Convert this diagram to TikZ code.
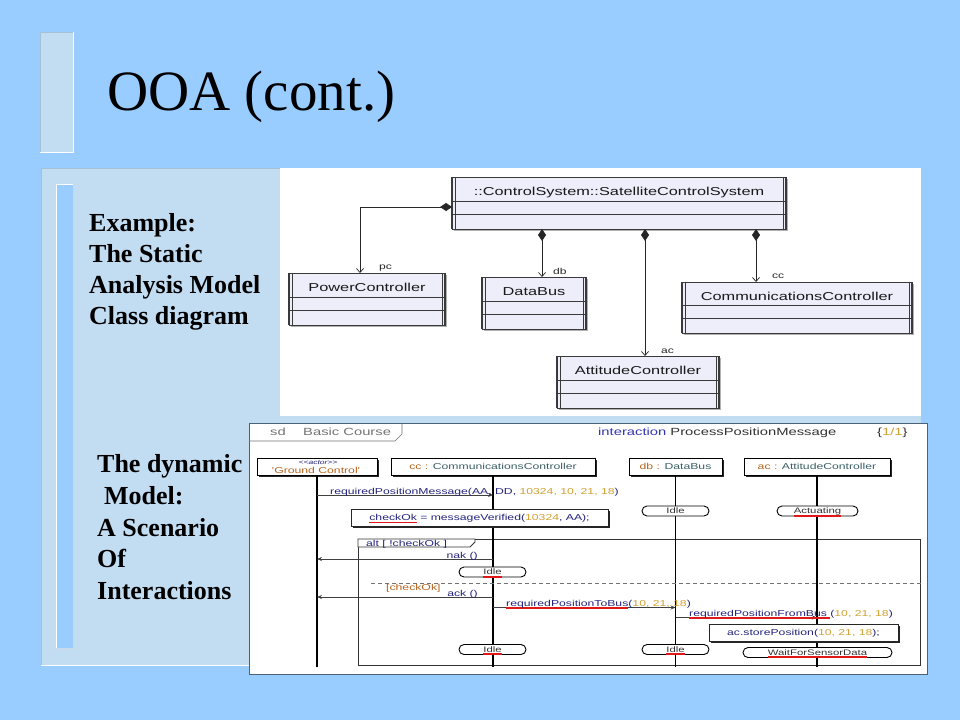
\documentclass[tikz,border=0pt]{standalone}
\usepackage{fontspec}
\setmainfont{Liberation Serif}
\newfontfamily\dgfont[FakeStretch=1.42]{Liberation Sans}
\usetikzlibrary{arrows.meta,calc}
\definecolor{bg}{HTML}{99CCFF}
\definecolor{panel}{HTML}{C2DCF2}
\definecolor{panelline}{HTML}{A6C0D8}
\definecolor{clsfill}{HTML}{EEEEFA}
\definecolor{clsline}{HTML}{3A3A3A}
\definecolor{imgborder}{HTML}{4A6278}
\definecolor{navy}{HTML}{24247E}
\definecolor{gold}{HTML}{D2A032}
\definecolor{rust}{HTML}{B8641E}
\definecolor{tealc}{HTML}{3A5F66}
\definecolor{errred}{HTML}{E01818}
\definecolor{ltblue}{HTML}{3535B5}
\newsavebox\ulbox
\newcommand\redul[1]{\sbox\ulbox{#1}\rlap{\color{errred}\vrule width \wd\ulbox height -1.0pt depth 2.6pt}\usebox\ulbox}
\newcommand\umlcls[6]{%
  \fill[black!30] (#2+1.5,#3+1.5) rectangle (#4+1.5,#5+1.5);
  \node[clsbox, minimum width={(#4-#2)*1pt}, minimum height={(#5-#3)*1pt}] (#1) at ({(#2+#4)/2},{(#3+#5)/2}) {};
  \draw[clsline] ($(#1.north west)!0.46!(#1.south west)$) -- ($(#1.north east)!0.46!(#1.south east)$);
  \draw[clsline] ($(#1.north west)!0.72!(#1.south west)$) -- ($(#1.north east)!0.72!(#1.south east)$);
  \draw[clsline] ([xshift=3pt]#1.north west) -- ([xshift=3pt]#1.south west);
  \draw[clsline] ([xshift=-3pt]#1.north east) -- ([xshift=-3pt]#1.south east);
  \draw[clsline, line width=1.6pt] (#1.north west) -- (#1.south west) (#1.north east) -- (#1.south east);
  \node[clstext] (#1-t) at ($(#1.north)!0.28!(#1.south)$) {#6};
}
\begin{document}
\begin{tikzpicture}[x=1pt,y=-1pt,
  clsbox/.style={draw=clsline, line width=0.6pt, fill=clsfill, inner sep=0pt, outer sep=0pt},
  clsline/.style={draw=clsline, line width=0.6pt},
  clstext/.style={font=\dgfont\fontsize{11.5}{13}\selectfont, text=black!90, inner sep=0pt, text height=8.2pt, text depth=0pt},
  rolelbl/.style={font=\dgfont\fontsize{8.5}{10}\selectfont, text=black!85, inner sep=0pt, anchor=base west},
  comp/.style={draw=black!85, line width=0.7pt, {Diamond[length=12pt,width=8pt]}-{Straight Barb[length=4pt,width=7pt]}},
  seqtxt/.style={font=\dgfont\fontsize{8.6}{10}\selectfont, inner sep=0pt, text height=6.2pt, text depth=0pt},
  hdrtxt/.style={font=\dgfont\fontsize{10.4}{12}\selectfont, inner sep=0pt, text height=7.5pt, text depth=0pt},
  headbox/.style={draw=black, line width=0.8pt, fill=white, inner sep=0pt},
  actbox/.style={draw=black!85, line width=0.8pt, fill=white, inner sep=0pt},
  statebox/.style={draw=black, line width=0.9pt, fill=white, rounded corners=5pt, inner sep=0pt, minimum height=10pt,
     font=\dgfont\fontsize{8}{9}\selectfont, text=black!80, text height=5.8pt, text depth=0pt},
  lifeline/.style={draw=black, line width=1.4pt},
  msg/.style={draw=black!75, line width=0.7pt, -{Stealth[length=5pt,width=4pt]}},
  titletxt/.style={font=\fontsize{57}{60}\selectfont, inner sep=0pt, anchor=base west},
  lefttxt/.style={font=\fontsize{26}{31}\selectfont\bfseries, inner sep=0pt, anchor=base west}
]
\useasboundingbox (0,0) rectangle (960,720);
\fill[bg] (0,0) rectangle (960,720);

% title decoration and title
\fill[panel] (40,32) rectangle (73,152);
\draw[panelline] (40,152) -- (40,32) -- (73,32);
\draw[white] (73,32) -- (73,152) -- (40,152);
\node[titletxt] (title) at (107,110) {OOA (cont.)};

% content panel
\fill[panel] (41,168) rectangle (921,665);
\draw[panelline] (41,665) -- (41,168) -- (921,168);
\draw[white] (41,665) -- (921,665);
\fill[bg] (56,184) rectangle (73,648);
\draw[white] (56,648) -- (56,184) -- (73,184);
\draw[panelline!60] (73,184) -- (73,648) -- (56,648);

% left texts
\node[lefttxt] (ex1) at (89,231) {Example:};
\node[lefttxt] (ex2) at (89,262) {The Static};
\node[lefttxt] (ex3) at (89,293) {Analysis Model};
\node[lefttxt] (ex4) at (89,324) {Class diagram};
\node[lefttxt] (dy1) at (97,472) {The dynamic};
\node[lefttxt] (dy2) at (104,504) {Model:};
\node[lefttxt] (dy3) at (97,536) {A Scenario};
\node[lefttxt] (dy4) at (97,567) {Of};
\node[lefttxt] (dy5) at (97,599) {Interactions};

% ===== class diagram =====
\node[fill=white, inner sep=0pt, minimum width=641pt, minimum height=248pt, anchor=north west] (clsimg) at (280,168) {};
\umlcls{sat}{452}{177}{786}{229}{::ControlSystem::SatelliteControlSystem}
\umlcls{pc}{289}{273}{445}{325}{PowerController}
\umlcls{db}{482}{277}{586}{329}{DataBus}
\umlcls{cc}{682}{282}{912}{333}{CommunicationsController}
\umlcls{ac}{557}{356}{719}{408}{AttitudeController}

\draw[comp] ([yshift=-4pt]sat.west) -| ([xshift=-7pt]pc.north);
\draw[comp] ([xshift=8pt]db.north |- sat.south) -- ([xshift=8pt]db.north);
\draw[comp] ([xshift=7pt]ac.north |- sat.south) -- ([xshift=7pt]ac.north);
\draw[comp] ([xshift=-41pt]cc.north |- sat.south) -- ([xshift=-41pt]cc.north);
\node[rolelbl] (lpc) at (379,269.5) {pc};
\node[rolelbl] (ldb) at (553,274) {db};
\node[rolelbl] (lcc) at (772,278.5) {cc};
\node[rolelbl] (lac) at (661,353) {ac};

% ===== sequence diagram =====
\node[fill=white, draw=imgborder, line width=1.2pt, inner sep=0pt, minimum width=678pt, minimum height=251pt, anchor=north west] (seqimg) at (249,423) {};
\draw[black!55, line width=0.6pt] (seqimg.west |- 0,441) -- (395,441) -- (402,434) -- (402,424);
\node[hdrtxt, text=black!55, anchor=west] (sdl) at (270,432) {sd};
\node[hdrtxt, text=black!55, anchor=west] (bcl) at (303,432) {Basic Course};
\node[hdrtxt, anchor=west] (intl) at (598,432) {{\color{ltblue}interaction} {\color{black!80}ProcessPositionMessage}};
\node[hdrtxt, anchor=west] (pagel) at (877,432) {{\color{black!80}\{}{\color{gold}1/1}{\color{black!80}\}}};

% alt frame (behind)
\node[draw=black!80, line width=1.1pt, inner sep=0pt, minimum width=562pt, minimum height=126pt, anchor=north west] (alt) at (358,539) {};

% heads with shadows
\fill[black!85] (259,460) rectangle (379,477);
\node[headbox, minimum width=120pt, minimum height=17pt] (gc) at (317,466.5) {};
\fill[black!85] (393,460) rectangle (597,477);
\node[headbox, minimum width=204pt, minimum height=17pt] (cch) at (493,466.5) {};
\fill[black!85] (631,460) rectangle (724,477);
\node[headbox, minimum width=93pt, minimum height=17pt] (dbh) at (675.5,466.5) {};
\fill[black!85] (746,460) rectangle (892,477);
\node[headbox, minimum width=146pt, minimum height=17pt] (ach) at (817,466.5) {};

\node[seqtxt, font=\dgfont\fontsize{6}{7}\selectfont\itshape, text height=4.3pt, text=navy] (gcst) at (318,462.5) {<\kern0pt<actor>\kern0pt>};
\node[seqtxt, text=rust] (gcn) at (316,470) {'Ground Control'};
\node[seqtxt] (ccn) at (cch) {{\color{rust}cc :} {\color{tealc}CommunicationsController}};
\node[seqtxt] (dbn) at (dbh) {{\color{rust}db :} {\color{tealc}DataBus}};
\node[seqtxt] (acn) at (ach) {{\color{rust}ac :} {\color{tealc}AttitudeController}};

% lifelines
\coordinate (bot) at (0,667);
\draw[lifeline] (gc.south) -- (gc.south |- bot);
\draw[lifeline] (cch.south) -- (cch.south |- bot);
\draw[lifeline] (dbh.south) -- (dbh.south |- bot);
\draw[lifeline] (ach.south) -- (ach.south |- bot);

% alt tab and operand separator
\draw[black!80, line width=0.8pt, fill=white] (alt.north west) -- (475,539) -- (475,542) -- (470,547) -- (alt.west |- 0,547) -- cycle;
\node[seqtxt, text=navy, anchor=west] (altl) at (366,543) {alt [ !checkOk ]};
\coordinate (dashL) at (371,583);
\draw[black!55, line width=0.8pt, dash pattern=on 4pt off 3pt] (dashL) -- (dashL -| alt.east);
\node[seqtxt, text=rust, anchor=west] (guard) at (386,587.5) {[checkOk]};

% message 1
\draw[msg] (gc.south |- 0,495) -- (cch.south |- 0,495);
\node[seqtxt, anchor=west] (m1) at (330,491.5) {{\color{navy}requiredPositionMessage(AA, DD, }{\color{gold}10324, 10, 21, 18}{\color{navy})}};

% action box checkOk
\fill[black!85] (353,511) rectangle (610,528);
\node[actbox, minimum width=257pt, minimum height=17pt] (act1) at (479.5,517.5) {};
\node[seqtxt] (act1t) at (act1) {{\color{navy}\redul{checkOk} = messageVerified(}{\color{gold}10324}{\color{navy}, AA);}};

% states
\node[statebox, minimum width=67pt] (st1) at (675.5,511) {Idle};
\node[statebox, minimum width=81pt] (st2) at (817.5,511) {\redul{Actuating}};

% nak
\draw[msg] (cch.south |- 0,559) -- (gc.south |- 0,559);
\node[seqtxt, text=navy, anchor=east] (nakl) at (478,555) {nak ()};
\node[statebox, minimum width=67pt] (st3) at (492.5,572) {\redul{Idle}};

% ack
\draw[msg] (cch.south |- 0,597) -- (gc.south |- 0,597);
\node[seqtxt, text=navy, anchor=east] (ackl) at (478,593) {ack ()};

% to bus
\draw[msg] (cch.south |- 0,607.5) -- (dbh.south |- 0,607.5);
\node[seqtxt, anchor=west] (m2) at (506,603) {{\color{navy}\redul{requiredPositionToBus}(}{\color{gold}10, 21, 18}{\color{navy})}};

% from bus
\draw[msg] (dbh.south |- 0,617.5) -- (ach.south |- 0,617.5);
\node[seqtxt, anchor=west] (m3) at (689,613) {{\color{navy}\redul{requiredPositionFromBus }(}{\color{gold}10, 21, 18}{\color{navy})}};

% action box store
\fill[black!85] (711,626) rectangle (900,643);
\node[actbox, minimum width=189pt, minimum height=17pt] (act2) at (803.5,632.5) {};
\node[seqtxt] (act2t) at (act2) {{\color{navy}ac.storePosition(}{\color{gold}10, 21, 18}{\color{navy});}};

% final states
\node[statebox, minimum width=67pt] (st4) at (492.5,649.5) {\redul{Idle}};
\node[statebox, minimum width=67pt] (st5) at (675.5,649.5) {\redul{Idle}};
\node[statebox, minimum width=149pt] (st6) at (817.5,652.5) {\redul{WaitForSensorData}};
\end{tikzpicture}
\end{document}
